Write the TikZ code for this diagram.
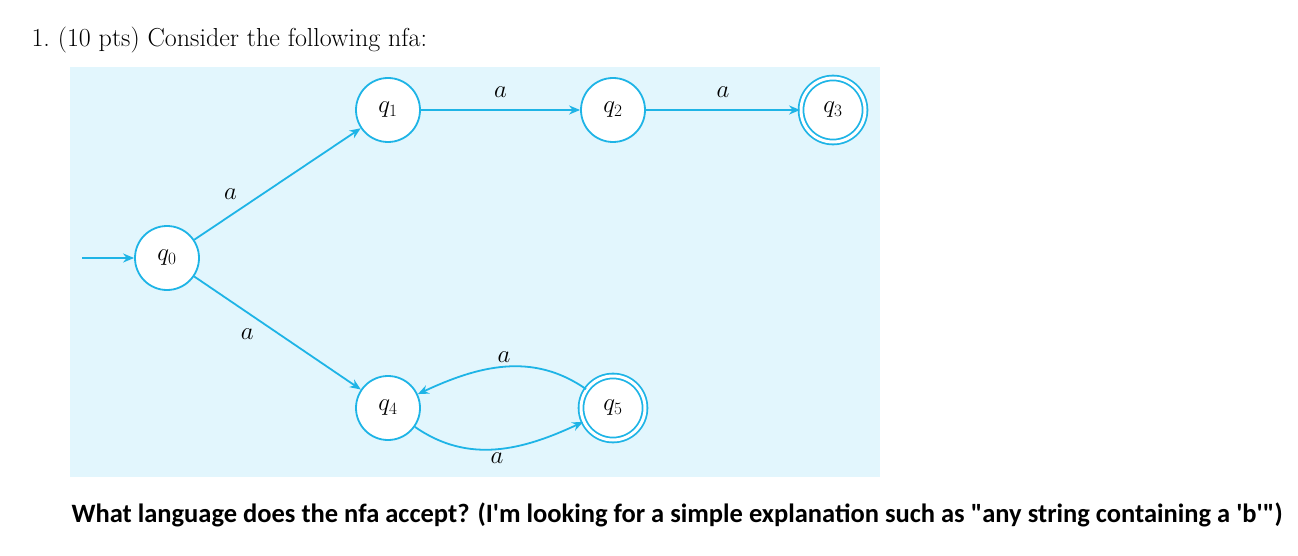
\documentclass[tikz,border=0pt]{standalone}
\usepackage{fontspec}
\newfontfamily\carl{Carlito}
\usetikzlibrary{arrows.meta}
\definecolor{ln}{RGB}{30,180,230}
\definecolor{bg}{RGB}{226,246,253}
\begin{document}
\begin{tikzpicture}[x=1pt,y=-1pt,
  st/.style={circle,draw=ln,fill=white,line width=1.8pt,minimum size=64pt,inner sep=0pt,font=\fontsize{26}{26}\selectfont},
  acc/.style={st,double=white,double distance=3pt},
  ed/.style={draw=ln,line width=1.8pt,-{Stealth[length=11pt,width=9pt]}},
  lb/.style={font=\fontsize{24}{24}\selectfont}]
\useasboundingbox (0,0) rectangle (1298,556);
\fill[bg] (70,67) rectangle (880,477);
\node[anchor=west,font=\fontsize{26}{26}\selectfont] (t) at (28,40) {1.\ (10 pts) Consider the following nfa:};
\node[anchor=west,font=\carl\bfseries\fontsize{26.5}{26.5}\selectfont] (qq) at (68,515) {What language does the nfa accept? (I'm looking for a simple explanation such as "any string containing a 'b'")};
\node[st] (q0) at (167,258) {$q_0$};
\node[st] (q1) at (388,110) {$q_1$};
\node[st] (q2) at (613,110) {$q_2$};
\node[acc] (q3) at (833,110) {$q_3$};
\node[st] (q4) at (388,408) {$q_4$};
\node[acc] (q5) at (613,408) {$q_5$};
\coordinate (s) at (82,258);
\draw[ed] (s) -- (q0);
\draw[ed] (q0) -- node[lb,above left=3pt,pos=0.3]{$a$} (q1);
\draw[ed] (q0) -- node[lb,below left=3pt,pos=0.4]{$a$} (q4);
\draw[ed] (q1) -- node[lb,above=8pt]{$a$} (q2);
\draw[ed] (q2) -- node[lb,above=8pt]{$a$} (q3);
\draw[ed] (q5) to[out=145,in=25] node[lb,above]{$a$} (q4);
\draw[ed] (q4) to[out=-35,in=-155] node[lb,below]{$a$} (q5);
\end{tikzpicture}
\end{document}
